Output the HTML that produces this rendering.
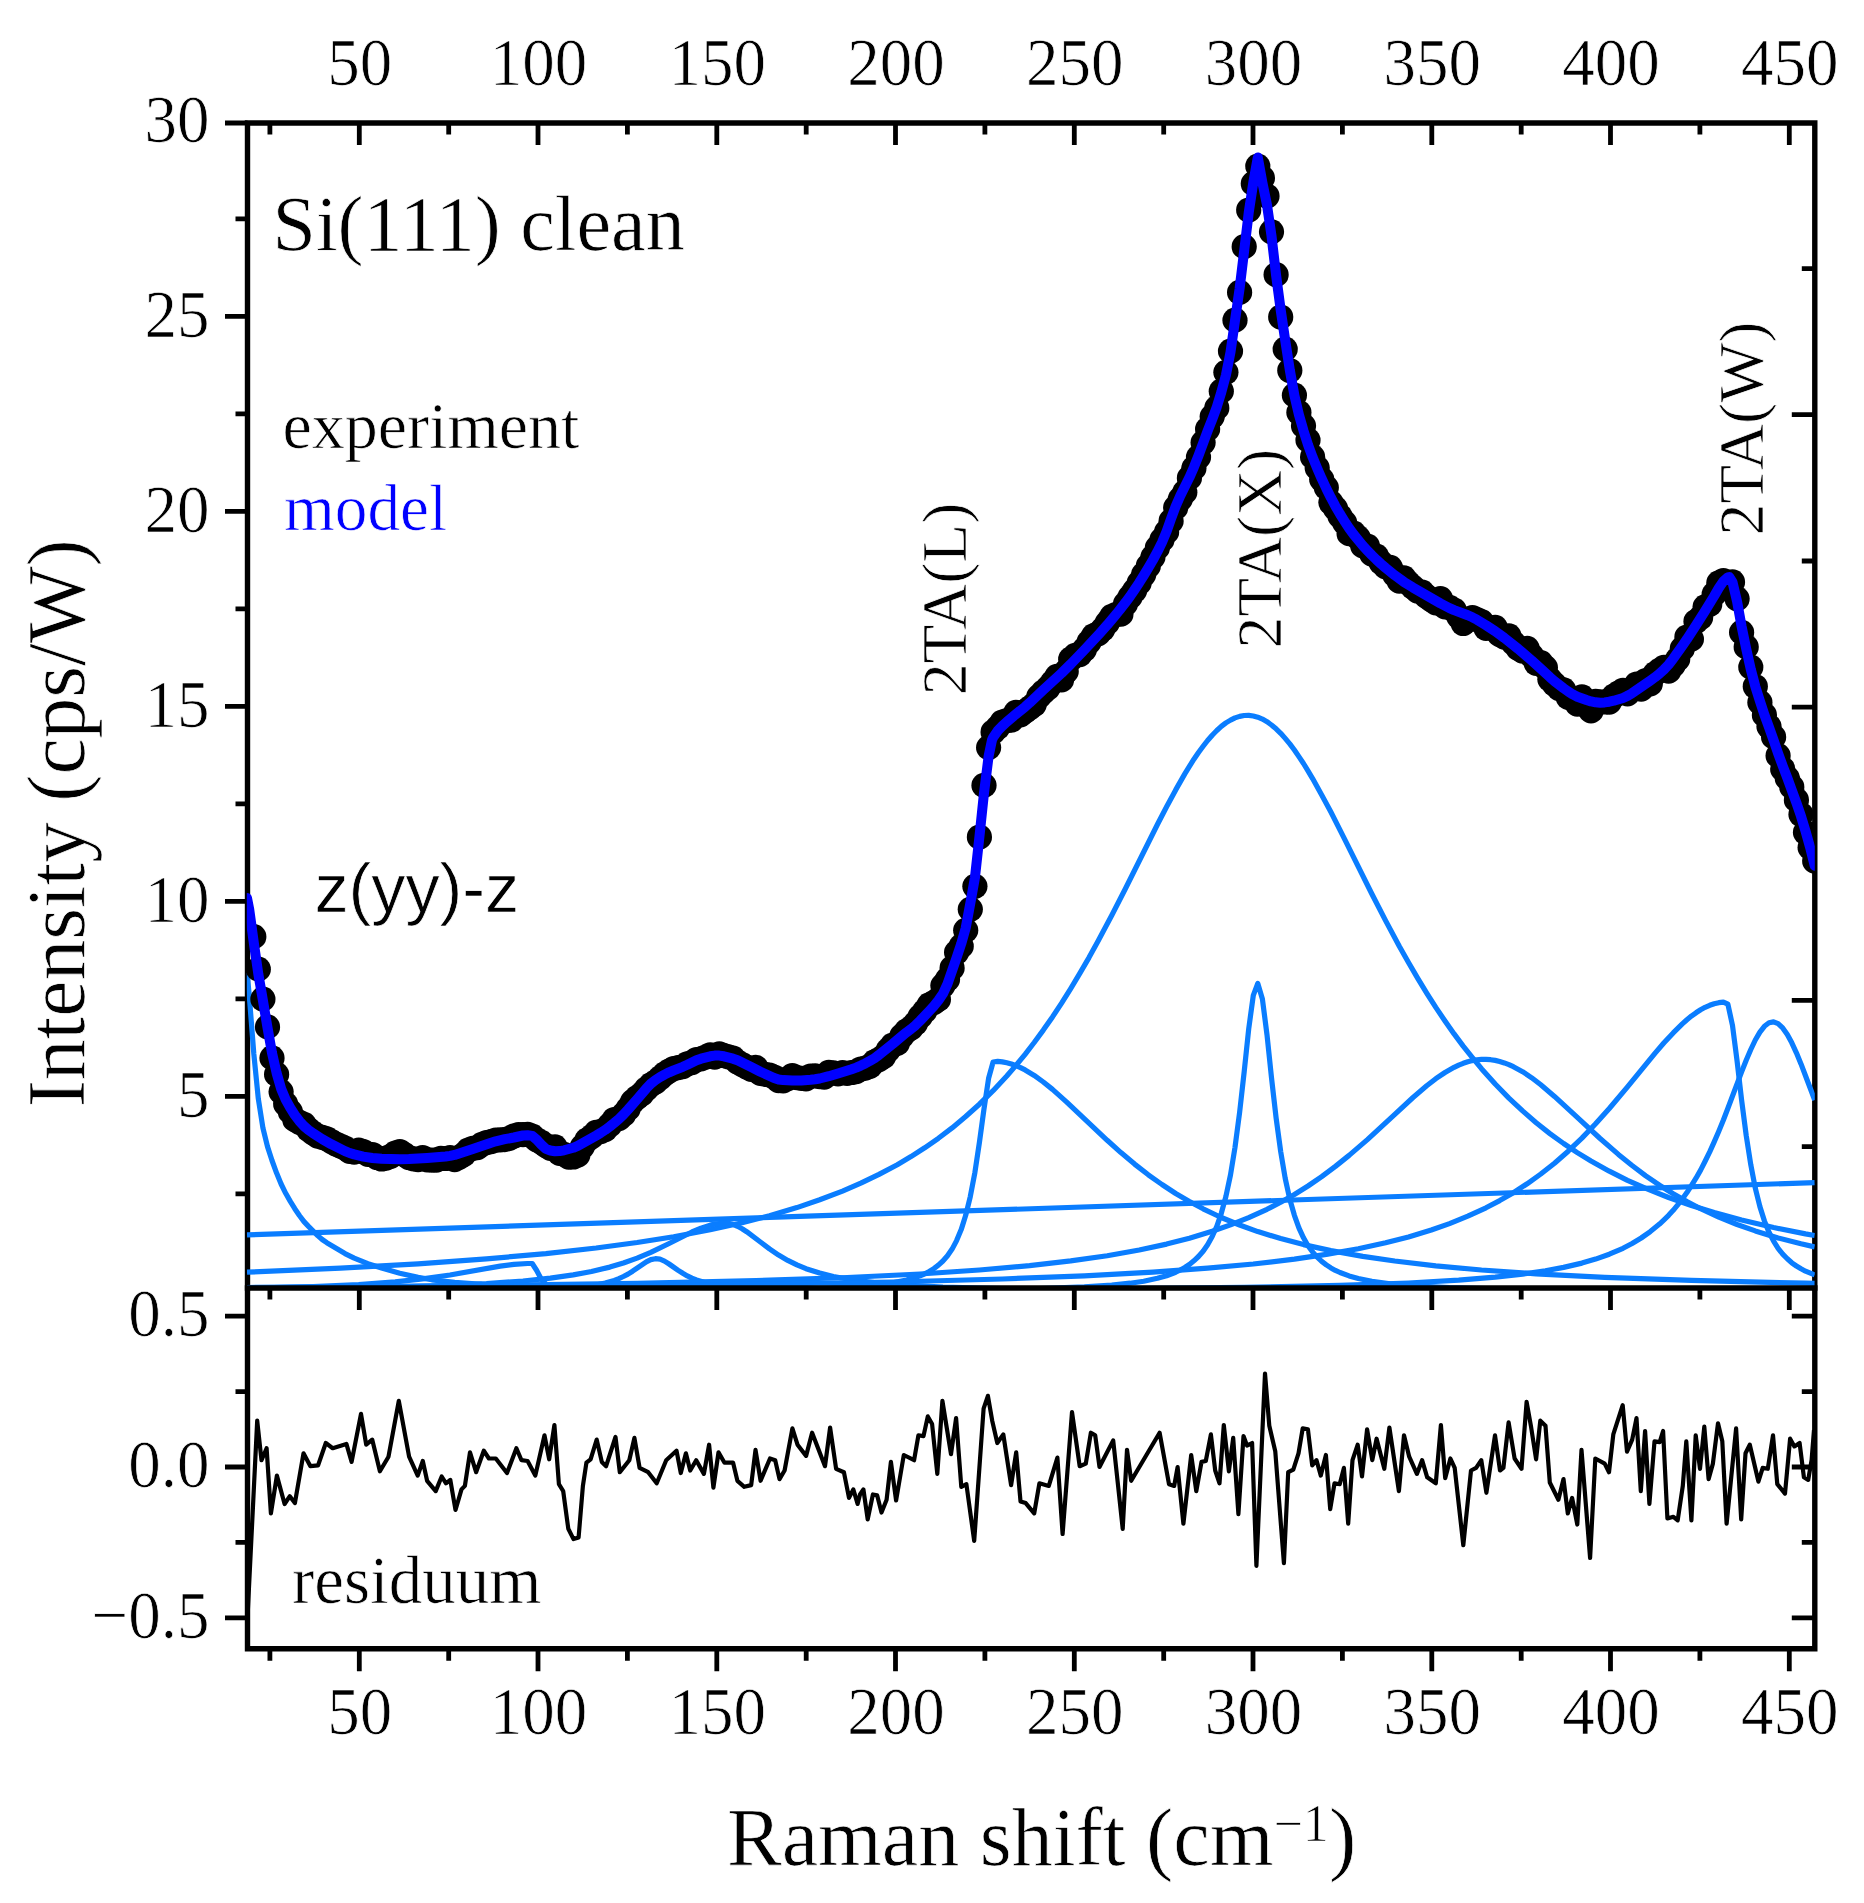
<!DOCTYPE html>
<html><head><meta charset="utf-8"><title>Raman spectrum Si(111)</title>
<style>html,body{margin:0;padding:0;background:#fff}svg{display:block}</style></head>
<body>
<svg xmlns="http://www.w3.org/2000/svg" width="1864" height="1903" viewBox="0 0 1864 1903">
<defs><clipPath id="cu"><rect x="246.8" y="123" width="1568" height="1165"/></clipPath>
<clipPath id="cl"><rect x="247.5" y="1288" width="1567.3" height="360.7"/></clipPath></defs>
<rect width="1864" height="1903" fill="#fff"/>
<path d="M247.5 1288V123H1814.8V1288" fill="none" stroke="#000" stroke-width="5.4" stroke-linecap="square"/>
<path d="M269.9 123V134.5M359.3 123V145M448.7 123V134.5M538 123V145M627.4 123V134.5M716.8 123V145M806.2 123V134.5M895.5 123V145M984.9 123V134.5M1074.3 123V145M1163.7 123V134.5M1253 123V145M1342.4 123V134.5M1431.8 123V145M1521.2 123V134.5M1610.5 123V145M1699.9 123V134.5M1789.3 123V145M235.5 1193.9H247.5M225 1096.4H247.5M235.5 998.9H247.5M225 901.4H247.5M235.5 803.9H247.5M225 706.4H247.5M235.5 608.9H247.5M225 511.4H247.5M235.5 413.9H247.5M225 316.4H247.5M235.5 218.9H247.5M225 123H247.5M1801.8 268.6H1814.8M1791.8 414.6H1814.8M1801.8 561H1814.8M1791.8 707.2H1814.8M1801.8 853.6H1814.8M1791.8 1000.4H1814.8M1801.8 1146.6H1814.8" fill="none" stroke="#000" stroke-width="4.8"/>
<g clip-path="url(#cu)" fill="none" stroke="#0a7dff" stroke-width="5.2" stroke-linejoin="round">
<path d="M247 1234.9 L1814.7 1182.6"/>
<path d="M247 973.2 L249.2 994.6 L253.8 1053.8 L258.3 1098.7 L262.9 1127.8 L267.5 1146.6 L272 1160.5 L276.6 1173.1 L281.1 1184 L285.7 1193.3 L290.3 1201.4 L294.8 1208.7 L299.4 1215.5 L304 1221.6 L308.5 1226.4 L317.7 1235.6 L322.2 1239.5 L326.8 1242.7 L345 1253.6 L354.2 1258.2 L367.9 1263.7 L381.6 1268.1 L399.8 1273.3 L418.1 1277.4 L431.8 1279.8 L454.6 1282.4 L482 1284.3 L555 1287.3 L605.2 1288.6 L737.5 1290.2 L1020.5 1290.9 L1782.7 1291.5 L1814.7 1291.5"/>
<path d="M247 1272.2 L340.5 1268.2 L418.1 1263.8 L486.5 1258.9 L545.9 1253.6 L596.1 1248 L637.1 1242.5 L673.7 1236.7 L710.2 1229.8 L742.1 1222.7 L769.5 1215.7 L796.9 1207.6 L819.7 1199.8 L842.5 1191.1 L860.8 1183.2 L879 1174.4 L897.3 1164.7 L911 1156.6 L924.7 1147.8 L938.4 1138.3 L952.1 1127.9 L965.7 1116.5 L979.4 1104.2 L993.1 1090.7 L1006.8 1076 L1016 1065.4 L1025.1 1054.3 L1034.2 1042.5 L1043.3 1030.1 L1052.5 1016.9 L1061.6 1003.1 L1070.7 988.6 L1079.8 973.4 L1089 957.6 L1098.1 941.1 L1111.8 915.3 L1125.5 888.5 L1157.4 824.5 L1166.6 806.8 L1175.7 789.9 L1184.8 773.9 L1189.4 766.4 L1193.9 759.2 L1198.5 752.5 L1203.1 746.3 L1207.6 740.5 L1212.2 735.2 L1216.8 730.5 L1221.3 726.4 L1225.9 722.9 L1230.5 720.1 L1235 717.9 L1239.6 716.4 L1244.2 715.5 L1248.7 715.4 L1253.3 716 L1257.8 717.2 L1262.4 719.1 L1267 721.7 L1271.5 725 L1276.1 728.8 L1280.7 733.3 L1285.2 738.4 L1289.8 743.9 L1294.4 750 L1298.9 756.6 L1303.5 763.5 L1308 770.9 L1312.6 778.6 L1321.7 794.9 L1330.9 812.1 L1344.6 839.1 L1371.9 894 L1385.6 920.6 L1399.3 946.2 L1408.5 962.5 L1417.6 978.1 L1426.7 993.1 L1435.8 1007.4 L1445 1021 L1454.1 1033.9 L1463.2 1046.1 L1472.4 1057.7 L1481.5 1068.7 L1495.2 1084 L1508.9 1098.1 L1522.6 1110.9 L1536.2 1122.7 L1549.9 1133.6 L1563.6 1143.5 L1577.3 1152.6 L1591 1161 L1609.3 1171.2 L1627.5 1180.3 L1645.8 1188.4 L1668.6 1197.5 L1691.4 1205.5 L1714.2 1212.6 L1741.6 1220 L1773.6 1227.5 L1805.5 1233.9 L1814.7 1235.5"/>
<path d="M247 1288.4 L313.1 1286.7 L358.7 1284.6 L395.2 1281.9 L422.6 1278.9 L450 1275 L500.2 1266.1 L513.9 1264.4 L527.6 1263.5 L532.2 1263.5 L536.7 1270.5 L541.3 1279.2 L545.9 1284.1 L550.4 1286.8 L555 1288.2 L559.6 1289.1 L568.7 1290.1 L591.5 1290.9 L682.8 1291.3 L1814.7 1291.4"/>
<path d="M247 1291.2 L459.1 1290.7 L527.6 1289.7 L559.6 1288.6 L582.4 1286.8 L596.1 1285 L605.2 1283.1 L614.3 1280.4 L618.9 1278.6 L623.4 1276.5 L628 1274.1 L632.6 1271.2 L646.3 1261.8 L650.8 1259.6 L655.4 1258.7 L660 1259.2 L664.5 1261.1 L669.1 1264 L678.2 1270.4 L682.8 1273.3 L687.3 1275.9 L691.9 1278.1 L696.5 1279.9 L705.6 1282.8 L714.7 1284.7 L728.4 1286.7 L746.7 1288.2 L778.6 1289.6 L842.5 1290.6 L1025.1 1291.2 L1814.7 1291.4"/>
<path d="M247 1289.3 L363.3 1287.8 L436.3 1285.9 L486.5 1283.6 L523 1281 L550.4 1278.1 L573.2 1274.9 L591.5 1271.5 L609.8 1267.1 L623.4 1263 L637.1 1258.1 L650.8 1252.3 L669.1 1243.5 L691.9 1232 L701 1228.1 L710.2 1225.1 L714.7 1224.1 L719.3 1223.5 L723.9 1223.2 L728.4 1223.4 L733 1224.4 L737.5 1226.3 L742.1 1228.7 L746.7 1231.7 L760.4 1242 L769.5 1248.9 L778.6 1255.1 L787.8 1260.4 L796.9 1264.9 L806 1268.7 L819.7 1273.1 L833.4 1276.5 L851.6 1279.8 L874.5 1282.7 L901.9 1284.9 L942.9 1287 L1002.3 1288.6 L1107.2 1289.9 L1330.9 1290.8 L1814.7 1291.2"/>
<path d="M247 1291.2 L637.1 1290.7 L760.4 1289.7 L819.7 1288.4 L856.2 1286.7 L879 1284.7 L892.7 1282.8 L906.4 1280 L915.5 1277.4 L920.1 1275.8 L924.7 1273.8 L929.2 1271.5 L933.8 1268.6 L938.4 1265.2 L942.9 1261 L947.5 1255.7 L952.1 1249.1 L956.6 1240.6 L961.2 1229.6 L965.7 1215.3 L970.3 1196.6 L974.9 1172.4 L979.4 1142.5 L984 1108.8 L988.6 1078.3 L993.1 1062 L997.7 1061.4 L1002.3 1061.9 L1006.8 1062.8 L1011.4 1064 L1016 1065.7 L1020.5 1067.6 L1025.1 1069.9 L1034.2 1075.4 L1043.3 1082 L1052.5 1089.4 L1066.2 1101.6 L1107.2 1140.3 L1120.9 1152.6 L1134.6 1164.1 L1148.3 1174.8 L1162 1184.5 L1175.7 1193.5 L1189.4 1201.5 L1203.1 1208.8 L1221.3 1217.5 L1239.6 1225 L1257.8 1231.6 L1280.7 1238.6 L1303.5 1244.6 L1330.9 1250.6 L1362.8 1256.4 L1394.8 1261 L1435.8 1265.8 L1481.5 1270 L1536.2 1273.8 L1604.7 1277.3 L1691.4 1280.4 L1805.5 1283.2 L1814.7 1283.3"/>
<path d="M247 1291.3 L796.9 1290.8 L961.2 1289.8 L1038.8 1288.6 L1084.4 1286.9 L1111.8 1285.1 L1130.1 1283.2 L1143.7 1281.2 L1157.4 1278.3 L1166.6 1275.7 L1175.7 1272.2 L1180.3 1270 L1184.8 1267.5 L1189.4 1264.5 L1193.9 1260.8 L1198.5 1256.5 L1203.1 1251.2 L1207.6 1244.7 L1212.2 1236.5 L1216.8 1226.3 L1221.3 1213.3 L1225.9 1196.5 L1230.5 1174.9 L1235 1147.3 L1239.6 1112.5 L1244.2 1071.6 L1248.7 1029 L1253.3 995.3 L1257.8 983.4 L1262.4 999 L1267 1034.8 L1271.5 1077.7 L1276.1 1117.9 L1280.7 1151.6 L1285.2 1178.4 L1289.8 1199.2 L1294.4 1215.3 L1298.9 1227.9 L1303.5 1237.8 L1308 1245.7 L1312.6 1252 L1317.2 1257.2 L1321.7 1261.4 L1326.3 1264.9 L1330.9 1267.9 L1335.4 1270.4 L1340 1272.5 L1349.1 1275.9 L1358.3 1278.5 L1371.9 1281.3 L1390.2 1283.8 L1413 1285.8 L1449.5 1287.7 L1504.3 1289.2 L1609.3 1290.3 L1814.7 1291"/>
<path d="M247 1287.5 L477.4 1285.6 L637.1 1283.3 L755.8 1280.6 L847.1 1277.5 L920.1 1274 L979.4 1270 L1029.6 1265.6 L1070.7 1260.9 L1107.2 1255.7 L1139.2 1250 L1166.6 1244.1 L1189.4 1238.2 L1212.2 1231.3 L1230.5 1224.9 L1248.7 1217.6 L1267 1209.3 L1280.7 1202.3 L1294.4 1194.5 L1308 1186 L1321.7 1176.6 L1335.4 1166.4 L1349.1 1155.4 L1367.4 1139.6 L1394.8 1114.3 L1413 1097.5 L1426.7 1085.8 L1435.8 1078.7 L1445 1072.5 L1454.1 1067.3 L1458.7 1065.1 L1463.2 1063.3 L1467.8 1061.8 L1472.4 1060.6 L1476.9 1059.8 L1481.5 1059.4 L1486 1059.4 L1490.6 1059.7 L1495.2 1060.4 L1499.7 1061.5 L1504.3 1062.9 L1508.9 1064.6 L1513.4 1066.7 L1522.6 1071.7 L1531.7 1077.8 L1540.8 1084.8 L1554.5 1096.4 L1577.3 1117.4 L1600.1 1138.5 L1618.4 1154.4 L1632.1 1165.5 L1645.8 1175.8 L1659.5 1185.2 L1673.2 1193.8 L1686.9 1201.6 L1700.6 1208.7 L1718.8 1217.1 L1737.1 1224.5 L1755.3 1230.9 L1778.1 1237.9 L1801 1243.8 L1814.7 1246.9"/>
<path d="M247 1288.3 L550.4 1286.6 L751.2 1284.4 L892.7 1282 L1002.3 1279 L1084.4 1275.8 L1152.9 1272.1 L1207.6 1268.2 L1253.3 1264 L1294.4 1259.1 L1326.3 1254.4 L1358.3 1248.7 L1385.6 1242.8 L1408.5 1236.9 L1431.3 1230 L1449.5 1223.6 L1467.8 1216.2 L1486 1207.8 L1499.7 1200.6 L1513.4 1192.7 L1527.1 1183.8 L1540.8 1174 L1554.5 1163.2 L1568.2 1151.2 L1581.9 1138.1 L1595.6 1123.8 L1609.3 1108.5 L1627.5 1086.8 L1654.9 1053.4 L1664 1042.8 L1673.2 1032.9 L1682.3 1023.9 L1686.9 1019.8 L1691.4 1016.1 L1696 1012.8 L1700.6 1009.8 L1705.1 1007.3 L1709.7 1005.3 L1714.2 1003.7 L1718.8 1002.7 L1723.4 1002.1 L1727.9 1004.2 L1732.5 1025.5 L1737.1 1061.1 L1741.6 1100 L1746.2 1135.4 L1750.8 1164.8 L1755.3 1188.2 L1759.9 1206.6 L1764.4 1220.9 L1769 1232.2 L1773.6 1241.1 L1778.1 1248.3 L1782.7 1254.1 L1787.3 1258.8 L1791.8 1262.8 L1796.4 1266 L1801 1268.8 L1805.5 1271.2 L1814.7 1274.9"/>
<path d="M247 1290.9 L838 1290.1 L1098.1 1288.9 L1244.2 1287.3 L1340 1285.4 L1408.5 1283 L1458.7 1280.2 L1495.2 1277.2 L1522.6 1274.2 L1545.4 1270.8 L1563.6 1267.4 L1581.9 1263.1 L1595.6 1259.1 L1609.3 1254.2 L1623 1248.3 L1632.1 1243.5 L1641.2 1238 L1650.3 1231.6 L1659.5 1224.1 L1664 1219.8 L1668.6 1215.3 L1673.2 1210.3 L1677.7 1204.9 L1682.3 1199 L1686.9 1192.6 L1691.4 1185.7 L1696 1178.2 L1700.6 1170.1 L1705.1 1161.3 L1709.7 1151.9 L1714.2 1141.9 L1718.8 1131.2 L1723.4 1120 L1727.9 1108.3 L1741.6 1071.9 L1746.2 1060.3 L1750.8 1049.5 L1755.3 1040 L1759.9 1032.1 L1764.4 1026.3 L1769 1022.8 L1773.6 1021.9 L1778.1 1023.7 L1782.7 1027.9 L1787.3 1034.4 L1791.8 1042.8 L1796.4 1052.8 L1801 1063.9 L1805.5 1075.7 L1814.7 1100"/>
</g>
<g clip-path="url(#cu)">
<g fill="#000"><circle cx="253.8" cy="936.7" r="12.6"/><circle cx="258.3" cy="969.2" r="12.6"/><circle cx="262.9" cy="999.1" r="12.6"/><circle cx="267.5" cy="1026.9" r="12.6"/><circle cx="272" cy="1057.9" r="12.6"/><circle cx="276.6" cy="1074.4" r="12.6"/><circle cx="281.1" cy="1091.8" r="12.6"/><circle cx="285.7" cy="1104.1" r="12.6"/><circle cx="290.3" cy="1111.7" r="12.6"/><circle cx="294.8" cy="1119.7" r="12.6"/><circle cx="299.4" cy="1122.4" r="12.6"/><circle cx="304" cy="1124.4" r="12.6"/><circle cx="308.5" cy="1129.5" r="12.6"/><circle cx="313.1" cy="1133.2" r="12.6"/><circle cx="317.7" cy="1136" r="12.6"/><circle cx="322.2" cy="1137.3" r="12.6"/><circle cx="326.8" cy="1138.8" r="12.6"/><circle cx="331.4" cy="1141.7" r="12.6"/><circle cx="335.9" cy="1144.1" r="12.6"/><circle cx="340.5" cy="1146.2" r="12.6"/><circle cx="345" cy="1148.1" r="12.6"/><circle cx="349.6" cy="1151.4" r="12.6"/><circle cx="354.2" cy="1152.1" r="12.6"/><circle cx="358.7" cy="1150.2" r="12.6"/><circle cx="363.3" cy="1151.5" r="12.6"/><circle cx="367.9" cy="1154.3" r="12.6"/><circle cx="372.4" cy="1154.5" r="12.6"/><circle cx="377" cy="1157.5" r="12.6"/><circle cx="381.6" cy="1159" r="12.6"/><circle cx="386.1" cy="1158.2" r="12.6"/><circle cx="390.7" cy="1156.3" r="12.6"/><circle cx="395.2" cy="1153.2" r="12.6"/><circle cx="399.8" cy="1151.5" r="12.6"/><circle cx="404.4" cy="1154.6" r="12.6"/><circle cx="408.9" cy="1157.7" r="12.6"/><circle cx="413.5" cy="1158.8" r="12.6"/><circle cx="418.1" cy="1159.6" r="12.6"/><circle cx="422.6" cy="1157.6" r="12.6"/><circle cx="427.2" cy="1159.8" r="12.6"/><circle cx="431.8" cy="1160.1" r="12.6"/><circle cx="436.3" cy="1160.2" r="12.6"/><circle cx="440.9" cy="1158.4" r="12.6"/><circle cx="445.5" cy="1158.5" r="12.6"/><circle cx="450" cy="1157.6" r="12.6"/><circle cx="454.6" cy="1159.7" r="12.6"/><circle cx="459.1" cy="1157.4" r="12.6"/><circle cx="463.7" cy="1154.6" r="12.6"/><circle cx="468.3" cy="1150.1" r="12.6"/><circle cx="472.8" cy="1148.3" r="12.6"/><circle cx="477.4" cy="1147.6" r="12.6"/><circle cx="482" cy="1144.4" r="12.6"/><circle cx="486.5" cy="1142.7" r="12.6"/><circle cx="491.1" cy="1141.6" r="12.6"/><circle cx="495.7" cy="1140.2" r="12.6"/><circle cx="500.2" cy="1139.8" r="12.6"/><circle cx="504.8" cy="1139.6" r="12.6"/><circle cx="509.3" cy="1138.4" r="12.6"/><circle cx="513.9" cy="1136" r="12.6"/><circle cx="518.5" cy="1134.7" r="12.6"/><circle cx="523" cy="1134.6" r="12.6"/><circle cx="527.6" cy="1134.4" r="12.6"/><circle cx="532.2" cy="1136.2" r="12.6"/><circle cx="536.7" cy="1139.9" r="12.6"/><circle cx="541.3" cy="1142.3" r="12.6"/><circle cx="545.9" cy="1145.7" r="12.6"/><circle cx="550.4" cy="1148.4" r="12.6"/><circle cx="555" cy="1146.8" r="12.6"/><circle cx="559.6" cy="1153.4" r="12.6"/><circle cx="564.1" cy="1154.3" r="12.6"/><circle cx="568.7" cy="1157.2" r="12.6"/><circle cx="573.2" cy="1157" r="12.6"/><circle cx="577.8" cy="1155" r="12.6"/><circle cx="582.4" cy="1146.6" r="12.6"/><circle cx="586.9" cy="1140.1" r="12.6"/><circle cx="591.5" cy="1136.9" r="12.6"/><circle cx="596.1" cy="1132.4" r="12.6"/><circle cx="600.6" cy="1131.6" r="12.6"/><circle cx="605.2" cy="1129.6" r="12.6"/><circle cx="609.8" cy="1125" r="12.6"/><circle cx="614.3" cy="1119.5" r="12.6"/><circle cx="618.9" cy="1118.7" r="12.6"/><circle cx="623.4" cy="1114.7" r="12.6"/><circle cx="628" cy="1108.9" r="12.6"/><circle cx="632.6" cy="1101.6" r="12.6"/><circle cx="637.1" cy="1097.5" r="12.6"/><circle cx="641.7" cy="1094.1" r="12.6"/><circle cx="646.3" cy="1089" r="12.6"/><circle cx="650.8" cy="1084.8" r="12.6"/><circle cx="655.4" cy="1082" r="12.6"/><circle cx="660" cy="1078.2" r="12.6"/><circle cx="664.5" cy="1074.2" r="12.6"/><circle cx="669.1" cy="1071" r="12.6"/><circle cx="673.7" cy="1068.5" r="12.6"/><circle cx="678.2" cy="1067.6" r="12.6"/><circle cx="682.8" cy="1066.6" r="12.6"/><circle cx="687.3" cy="1063.8" r="12.6"/><circle cx="691.9" cy="1062.6" r="12.6"/><circle cx="696.5" cy="1059.5" r="12.6"/><circle cx="701" cy="1058.9" r="12.6"/><circle cx="705.6" cy="1057.1" r="12.6"/><circle cx="710.2" cy="1054.8" r="12.6"/><circle cx="714.7" cy="1057.1" r="12.6"/><circle cx="719.3" cy="1053.9" r="12.6"/><circle cx="723.9" cy="1055.6" r="12.6"/><circle cx="728.4" cy="1056.8" r="12.6"/><circle cx="733" cy="1058.1" r="12.6"/><circle cx="737.5" cy="1062.1" r="12.6"/><circle cx="742.1" cy="1064.7" r="12.6"/><circle cx="746.7" cy="1067.2" r="12.6"/><circle cx="751.2" cy="1069.3" r="12.6"/><circle cx="755.8" cy="1067.4" r="12.6"/><circle cx="760.4" cy="1073.3" r="12.6"/><circle cx="764.9" cy="1074.3" r="12.6"/><circle cx="769.5" cy="1075" r="12.6"/><circle cx="774.1" cy="1077.1" r="12.6"/><circle cx="778.6" cy="1080.6" r="12.6"/><circle cx="783.2" cy="1080.9" r="12.6"/><circle cx="787.8" cy="1078.7" r="12.6"/><circle cx="792.3" cy="1075.7" r="12.6"/><circle cx="796.9" cy="1077.6" r="12.6"/><circle cx="801.4" cy="1078.4" r="12.6"/><circle cx="806" cy="1078.8" r="12.6"/><circle cx="810.6" cy="1076.2" r="12.6"/><circle cx="815.1" cy="1075.9" r="12.6"/><circle cx="819.7" cy="1076.6" r="12.6"/><circle cx="824.3" cy="1077.1" r="12.6"/><circle cx="828.8" cy="1072.4" r="12.6"/><circle cx="833.4" cy="1072.8" r="12.6"/><circle cx="838" cy="1073.8" r="12.6"/><circle cx="842.5" cy="1072.6" r="12.6"/><circle cx="847.1" cy="1073.4" r="12.6"/><circle cx="851.6" cy="1072.5" r="12.6"/><circle cx="856.2" cy="1071.7" r="12.6"/><circle cx="860.8" cy="1069" r="12.6"/><circle cx="865.3" cy="1068.1" r="12.6"/><circle cx="869.9" cy="1066.4" r="12.6"/><circle cx="874.5" cy="1061.8" r="12.6"/><circle cx="879" cy="1059.5" r="12.6"/><circle cx="883.6" cy="1056.5" r="12.6"/><circle cx="888.2" cy="1050.1" r="12.6"/><circle cx="892.7" cy="1045" r="12.6"/><circle cx="897.3" cy="1043.4" r="12.6"/><circle cx="901.9" cy="1036" r="12.6"/><circle cx="906.4" cy="1031.1" r="12.6"/><circle cx="911" cy="1028" r="12.6"/><circle cx="915.5" cy="1023.3" r="12.6"/><circle cx="920.1" cy="1016.7" r="12.6"/><circle cx="924.7" cy="1011.2" r="12.6"/><circle cx="929.2" cy="1004.9" r="12.6"/><circle cx="933.8" cy="1002.7" r="12.6"/><circle cx="938.4" cy="999.4" r="12.6"/><circle cx="942.9" cy="985.6" r="12.6"/><circle cx="947.5" cy="979.4" r="12.6"/><circle cx="952.1" cy="968" r="12.6"/><circle cx="956.6" cy="952.3" r="12.6"/><circle cx="961.2" cy="946.2" r="12.6"/><circle cx="965.7" cy="930.3" r="12.6"/><circle cx="970.3" cy="909.3" r="12.6"/><circle cx="974.9" cy="886.3" r="12.6"/><circle cx="979.4" cy="837" r="12.6"/><circle cx="984" cy="785.4" r="12.6"/><circle cx="988.6" cy="747.6" r="12.6"/><circle cx="993.1" cy="732" r="12.6"/><circle cx="997.7" cy="727.6" r="12.6"/><circle cx="1002.3" cy="722" r="12.6"/><circle cx="1006.8" cy="720.6" r="12.6"/><circle cx="1011.4" cy="720.1" r="12.6"/><circle cx="1016" cy="712.4" r="12.6"/><circle cx="1020.5" cy="714.9" r="12.6"/><circle cx="1025.1" cy="711.4" r="12.6"/><circle cx="1029.6" cy="708.1" r="12.6"/><circle cx="1034.2" cy="704.5" r="12.6"/><circle cx="1038.8" cy="696.7" r="12.6"/><circle cx="1043.3" cy="692" r="12.6"/><circle cx="1047.9" cy="688" r="12.6"/><circle cx="1052.5" cy="682.4" r="12.6"/><circle cx="1057" cy="676.3" r="12.6"/><circle cx="1061.6" cy="679.8" r="12.6"/><circle cx="1066.2" cy="671.4" r="12.6"/><circle cx="1070.7" cy="659.2" r="12.6"/><circle cx="1075.3" cy="655.3" r="12.6"/><circle cx="1079.8" cy="654.6" r="12.6"/><circle cx="1084.4" cy="649.5" r="12.6"/><circle cx="1089" cy="642.1" r="12.6"/><circle cx="1093.5" cy="635.9" r="12.6"/><circle cx="1098.1" cy="633.9" r="12.6"/><circle cx="1102.7" cy="629.3" r="12.6"/><circle cx="1107.2" cy="622.9" r="12.6"/><circle cx="1111.8" cy="616.4" r="12.6"/><circle cx="1116.4" cy="614.4" r="12.6"/><circle cx="1120.9" cy="614.2" r="12.6"/><circle cx="1125.5" cy="603.8" r="12.6"/><circle cx="1130.1" cy="596.8" r="12.6"/><circle cx="1134.6" cy="590.6" r="12.6"/><circle cx="1139.2" cy="582.8" r="12.6"/><circle cx="1143.7" cy="574.5" r="12.6"/><circle cx="1148.3" cy="566" r="12.6"/><circle cx="1152.9" cy="557.1" r="12.6"/><circle cx="1157.4" cy="547.7" r="12.6"/><circle cx="1162" cy="539.7" r="12.6"/><circle cx="1166.6" cy="531.9" r="12.6"/><circle cx="1171.1" cy="521" r="12.6"/><circle cx="1175.7" cy="507.6" r="12.6"/><circle cx="1180.3" cy="499.1" r="12.6"/><circle cx="1184.8" cy="492.2" r="12.6"/><circle cx="1189.4" cy="477.9" r="12.6"/><circle cx="1193.9" cy="468.2" r="12.6"/><circle cx="1198.5" cy="457.1" r="12.6"/><circle cx="1203.1" cy="442.6" r="12.6"/><circle cx="1207.6" cy="429.1" r="12.6"/><circle cx="1212.2" cy="416.6" r="12.6"/><circle cx="1216.8" cy="407.9" r="12.6"/><circle cx="1221.3" cy="391.2" r="12.6"/><circle cx="1225.9" cy="372.3" r="12.6"/><circle cx="1230.5" cy="351.1" r="12.6"/><circle cx="1235" cy="320.2" r="12.6"/><circle cx="1239.6" cy="292.4" r="12.6"/><circle cx="1244.2" cy="246.7" r="12.6"/><circle cx="1248.7" cy="210" r="12.6"/><circle cx="1253.3" cy="183.7" r="12.6"/><circle cx="1257.8" cy="166.1" r="12.6"/><circle cx="1262.4" cy="178" r="12.6"/><circle cx="1267" cy="196" r="12.6"/><circle cx="1271.5" cy="231.8" r="12.6"/><circle cx="1276.1" cy="274.7" r="12.6"/><circle cx="1280.7" cy="317" r="12.6"/><circle cx="1285.2" cy="349.1" r="12.6"/><circle cx="1289.8" cy="370.5" r="12.6"/><circle cx="1294.4" cy="395.2" r="12.6"/><circle cx="1298.9" cy="412.5" r="12.6"/><circle cx="1303.5" cy="425.8" r="12.6"/><circle cx="1308" cy="440.1" r="12.6"/><circle cx="1312.6" cy="456.9" r="12.6"/><circle cx="1317.2" cy="467.8" r="12.6"/><circle cx="1321.7" cy="479.3" r="12.6"/><circle cx="1326.3" cy="487.6" r="12.6"/><circle cx="1330.9" cy="502.6" r="12.6"/><circle cx="1335.4" cy="508.4" r="12.6"/><circle cx="1340" cy="516.1" r="12.6"/><circle cx="1344.6" cy="522.6" r="12.6"/><circle cx="1349.1" cy="533.7" r="12.6"/><circle cx="1353.7" cy="533.1" r="12.6"/><circle cx="1358.3" cy="537.9" r="12.6"/><circle cx="1362.8" cy="545.9" r="12.6"/><circle cx="1367.4" cy="546" r="12.6"/><circle cx="1371.9" cy="554.2" r="12.6"/><circle cx="1376.5" cy="556.2" r="12.6"/><circle cx="1381.1" cy="562.6" r="12.6"/><circle cx="1385.6" cy="566.8" r="12.6"/><circle cx="1390.2" cy="567.3" r="12.6"/><circle cx="1394.8" cy="574.8" r="12.6"/><circle cx="1399.3" cy="581.2" r="12.6"/><circle cx="1403.9" cy="577.9" r="12.6"/><circle cx="1408.5" cy="583.1" r="12.6"/><circle cx="1413" cy="587.4" r="12.6"/><circle cx="1417.6" cy="591" r="12.6"/><circle cx="1422.1" cy="592.1" r="12.6"/><circle cx="1426.7" cy="596.7" r="12.6"/><circle cx="1431.3" cy="599.9" r="12.6"/><circle cx="1435.8" cy="602.9" r="12.6"/><circle cx="1440.4" cy="598.7" r="12.6"/><circle cx="1445" cy="606.9" r="12.6"/><circle cx="1449.5" cy="607.4" r="12.6"/><circle cx="1454.1" cy="610" r="12.6"/><circle cx="1458.7" cy="616.5" r="12.6"/><circle cx="1463.2" cy="623.5" r="12.6"/><circle cx="1467.8" cy="619.7" r="12.6"/><circle cx="1472.4" cy="617.7" r="12.6"/><circle cx="1476.9" cy="619.7" r="12.6"/><circle cx="1481.5" cy="621.6" r="12.6"/><circle cx="1486" cy="628.3" r="12.6"/><circle cx="1490.6" cy="627.9" r="12.6"/><circle cx="1495.2" cy="627.3" r="12.6"/><circle cx="1499.7" cy="634.7" r="12.6"/><circle cx="1504.3" cy="637" r="12.6"/><circle cx="1508.9" cy="635.9" r="12.6"/><circle cx="1513.4" cy="643" r="12.6"/><circle cx="1518" cy="648.3" r="12.6"/><circle cx="1522.6" cy="651" r="12.6"/><circle cx="1527.1" cy="648.4" r="12.6"/><circle cx="1531.7" cy="655.8" r="12.6"/><circle cx="1536.2" cy="663.3" r="12.6"/><circle cx="1540.8" cy="662.7" r="12.6"/><circle cx="1545.4" cy="667.6" r="12.6"/><circle cx="1549.9" cy="679.3" r="12.6"/><circle cx="1554.5" cy="684.4" r="12.6"/><circle cx="1559.1" cy="688.6" r="12.6"/><circle cx="1563.6" cy="689.9" r="12.6"/><circle cx="1568.2" cy="697.3" r="12.6"/><circle cx="1572.8" cy="698.8" r="12.6"/><circle cx="1577.3" cy="704.1" r="12.6"/><circle cx="1581.9" cy="696.8" r="12.6"/><circle cx="1586.5" cy="705.9" r="12.6"/><circle cx="1591" cy="710.9" r="12.6"/><circle cx="1595.6" cy="701.3" r="12.6"/><circle cx="1600.1" cy="701.9" r="12.6"/><circle cx="1604.7" cy="702" r="12.6"/><circle cx="1609.3" cy="702.1" r="12.6"/><circle cx="1613.8" cy="696.2" r="12.6"/><circle cx="1618.4" cy="693.1" r="12.6"/><circle cx="1623" cy="690.4" r="12.6"/><circle cx="1627.5" cy="693.8" r="12.6"/><circle cx="1632.1" cy="689.6" r="12.6"/><circle cx="1636.7" cy="684" r="12.6"/><circle cx="1641.2" cy="689.2" r="12.6"/><circle cx="1645.8" cy="680.5" r="12.6"/><circle cx="1650.3" cy="683.8" r="12.6"/><circle cx="1654.9" cy="673.9" r="12.6"/><circle cx="1659.5" cy="670.4" r="12.6"/><circle cx="1664" cy="667.4" r="12.6"/><circle cx="1668.6" cy="671.2" r="12.6"/><circle cx="1673.2" cy="665.1" r="12.6"/><circle cx="1677.7" cy="659.1" r="12.6"/><circle cx="1682.3" cy="648.7" r="12.6"/><circle cx="1686.9" cy="637" r="12.6"/><circle cx="1691.4" cy="639.1" r="12.6"/><circle cx="1696" cy="621.5" r="12.6"/><circle cx="1700.6" cy="617.6" r="12.6"/><circle cx="1705.1" cy="606.8" r="12.6"/><circle cx="1709.7" cy="604.4" r="12.6"/><circle cx="1714.2" cy="594.2" r="12.6"/><circle cx="1718.8" cy="582.8" r="12.6"/><circle cx="1723.4" cy="580.6" r="12.6"/><circle cx="1727.9" cy="582.9" r="12.6"/><circle cx="1732.5" cy="581.9" r="12.6"/><circle cx="1737.1" cy="598.8" r="12.6"/><circle cx="1741.6" cy="632.4" r="12.6"/><circle cx="1746.2" cy="646.9" r="12.6"/><circle cx="1750.8" cy="667.1" r="12.6"/><circle cx="1755.3" cy="686.5" r="12.6"/><circle cx="1759.9" cy="702.4" r="12.6"/><circle cx="1764.4" cy="714.9" r="12.6"/><circle cx="1769" cy="726.5" r="12.6"/><circle cx="1773.6" cy="736.9" r="12.6"/><circle cx="1778.1" cy="755.7" r="12.6"/><circle cx="1782.7" cy="769" r="12.6"/><circle cx="1787.3" cy="778.2" r="12.6"/><circle cx="1791.8" cy="786.9" r="12.6"/><circle cx="1796.4" cy="799.9" r="12.6"/><circle cx="1801" cy="814.5" r="12.6"/><circle cx="1805.5" cy="832.5" r="12.6"/><circle cx="1810.1" cy="847.6" r="12.6"/><circle cx="1814.7" cy="861" r="12.6"/></g>
<path d="M247 898 L249.2 909.2 L253.8 942.7 L258.3 973.9 L262.9 1000.4 L267.5 1027.7 L272 1052.8 L276.6 1073 L281.1 1088.7 L285.7 1099.6 L290.3 1107.9 L294.8 1115 L299.4 1121.1 L304 1126.1 L308.5 1130 L313.1 1133.3 L322.2 1139.1 L331.4 1144.3 L345 1151.1 L349.6 1153 L354.2 1154.4 L363.3 1156.6 L372.4 1158 L381.6 1158.8 L399.8 1159.3 L408.9 1159.1 L427.2 1158 L445.5 1156.5 L450 1155.9 L454.6 1154.9 L472.8 1149 L491.1 1142.7 L495.7 1141.3 L504.8 1139.2 L513.9 1137.5 L523 1135.5 L527.6 1135.2 L532.2 1135.9 L536.7 1139.6 L541.3 1144.6 L545.9 1148.9 L550.4 1150.5 L555 1151.3 L559.6 1151.1 L564.1 1150.3 L573.2 1147.8 L577.8 1145.9 L596.1 1135.6 L600.6 1132.9 L605.2 1129.9 L609.8 1126.5 L614.3 1122.9 L618.9 1119 L623.4 1114.6 L628 1109.6 L637.1 1099.2 L646.3 1088.4 L650.8 1083.7 L655.4 1080.1 L660 1077.1 L664.5 1074.6 L669.1 1072.3 L673.7 1070.3 L682.8 1066.8 L687.3 1064.8 L696.5 1060.3 L701 1058.7 L710.2 1056.3 L714.7 1055.6 L719.3 1055.6 L723.9 1056.3 L733 1058.7 L737.5 1060.3 L751.2 1067 L760.4 1071.7 L774.1 1078 L778.6 1079.5 L783.2 1080.1 L792.3 1080.6 L801.4 1080.6 L810.6 1079.8 L815.1 1079.3 L819.7 1078.5 L828.8 1076.2 L838 1073.5 L851.6 1069.2 L856.2 1067.6 L860.8 1065.6 L865.3 1063.4 L869.9 1060.9 L874.5 1058.2 L879 1054.9 L892.7 1043.9 L901.9 1036.1 L906.4 1032.4 L911 1029 L915.5 1025.3 L920.1 1020.7 L929.2 1011.1 L933.8 1006.1 L938.4 1000.4 L942.9 993.8 L947.5 983.9 L952.1 970.6 L956.6 957.7 L961.2 943.8 L965.7 928 L970.3 903.4 L974.9 877.9 L979.4 837 L984 793.1 L988.6 756.3 L992 740 L993.1 737.5 L997.7 730.8 L1002.3 726 L1006.8 721.8 L1016 714.1 L1025.1 706.8 L1029.6 702.8 L1043.3 689.8 L1061.6 673.1 L1070.7 664.1 L1084.4 649.9 L1098.1 635.2 L1107.2 624.9 L1116.4 614 L1120.9 608.3 L1125.5 602.4 L1130.1 596.2 L1134.6 589.6 L1139.2 582.7 L1143.7 575.5 L1148.3 567.9 L1152.9 560 L1157.4 551.7 L1162 542.4 L1166.6 531.4 L1171.1 518.7 L1175.7 506.2 L1180.3 495.8 L1189.4 477.4 L1193.9 467.2 L1198.5 455.6 L1207.6 431.1 L1212.2 419.4 L1216.8 406.9 L1221.3 392.3 L1225.9 375.3 L1230.5 352.1 L1235 320.5 L1239.6 288.6 L1244.2 250.5 L1248.7 212.8 L1253.3 182.4 L1257.8 157.5 L1257.8 157.5 L1262.4 182.6 L1267 205 L1271.5 235.9 L1276.1 275.4 L1280.7 310 L1285.2 340.3 L1289.8 370 L1294.4 395.3 L1298.9 414.6 L1303.5 430.7 L1308 444.8 L1312.6 457.2 L1317.2 468.3 L1321.7 478.7 L1326.3 488.5 L1330.9 497.7 L1335.4 506.2 L1340 514 L1344.6 521.3 L1349.1 528.2 L1353.7 534.5 L1358.3 540.2 L1362.8 545.6 L1367.4 550.6 L1371.9 555.3 L1376.5 559.8 L1381.1 564 L1385.6 567.9 L1394.8 575.3 L1403.9 581.9 L1413 587.6 L1440.4 603.4 L1449.5 608.1 L1454.1 610.1 L1467.8 615.2 L1472.4 617.3 L1476.9 619.7 L1486 625.2 L1495.2 631.2 L1504.3 637.9 L1518 648.7 L1531.7 660.5 L1540.8 668.7 L1549.9 677.2 L1554.5 681.2 L1563.6 688.2 L1568.2 691.5 L1572.8 694.4 L1577.3 696.7 L1586.5 700 L1591 701.4 L1595.6 702.3 L1600.1 702.7 L1604.7 702.4 L1609.3 701.7 L1613.8 700.7 L1623 698 L1627.5 695.9 L1632.1 693.2 L1650.3 680.6 L1654.9 677.3 L1659.5 673.6 L1664 669.5 L1668.6 664.6 L1673.2 658.7 L1682.3 645.8 L1686.9 639.2 L1696 625.3 L1705.1 610.8 L1714.2 596 L1718.8 588 L1723.4 581.2 L1727.9 577.3 L1729.2 577 L1732.5 582.2 L1737.1 601.6 L1741.6 626.5 L1746.2 648.8 L1750.8 669.4 L1755.3 686.4 L1759.9 701.1 L1764.4 714.7 L1769 727.3 L1773.6 740.2 L1778.1 753.3 L1782.7 765.9 L1787.3 777.9 L1791.8 790.2 L1796.4 802.8 L1801 816.2 L1805.5 831 L1810.1 847.4 L1814.7 865.8" fill="none" stroke="#0000ff" stroke-width="10" stroke-linejoin="round" stroke-linecap="round"/>
</g>
<path clip-path="url(#cl)" d="M246 1648 L257.2 1420.7 L261.5 1460.2 L266.6 1448.2 L270.9 1513.4 L276.9 1475.6 L284.6 1504 L289.8 1496.2 L294.9 1503.1 L303.5 1453.3 L310.4 1466.2 L318.1 1465.3 L325.8 1443 L332.7 1448.2 L346.4 1443.9 L351.6 1461.9 L361 1413.8 L366.2 1444.7 L372.2 1439.6 L379.9 1471.3 L388.5 1456.7 L398.8 1400.9 L409.1 1456.7 L417.7 1475.6 L422.8 1461 L427.1 1480.8 L435.7 1491.1 L441.7 1476.5 L446 1483.3 L450.3 1479.9 L455.5 1510 L461.5 1489.4 L464.9 1485.9 L470 1452.4 L476.1 1472.2 L483.8 1450.7 L488.9 1458.5 L495.8 1458.5 L507 1473 L516.4 1448.2 L521.5 1460.2 L527.6 1461 L535.3 1475.6 L544.5 1435.3 L549.2 1459.3 L554.4 1425 L558.9 1484.2 L563.2 1491.1 L568.3 1528.8 L573.5 1539.1 L578.6 1537.4 L582.9 1485.9 L586.4 1462.7 L590.6 1459.3 L596.7 1439.6 L601.8 1461.9 L606.1 1466.2 L615.5 1437 L619.8 1472.2 L629.3 1460.2 L634.4 1437.9 L639.6 1467.9 L648.2 1472.2 L656.7 1483.3 L666.2 1460.2 L676.5 1450.7 L680.8 1473 L685.9 1453.3 L690.2 1470.5 L696.2 1460.2 L703.9 1473.9 L709.1 1444.7 L713.4 1487.6 L718.5 1452.4 L724.5 1462.7 L733.1 1462.7 L737.4 1480.8 L744.3 1486.8 L751.2 1485.1 L755.5 1449.9 L760.6 1480.8 L770 1458.5 L775.2 1460.2 L779.5 1479.1 L784.6 1470.5 L792.4 1428.4 L797.5 1444.7 L806.1 1455.9 L812.1 1432.7 L825 1466.2 L830.1 1427.6 L836.1 1468.8 L843.9 1472.2 L849 1497.9 L853.3 1489.4 L857.6 1503.9 L860 1494.5 L863.4 1489.4 L867.7 1519.4 L872.9 1494.5 L877.2 1495.4 L881.5 1512.5 L886.6 1499.7 L890.9 1461.9 L896.1 1500.5 L903.8 1455 L914.1 1460.2 L918.4 1435.3 L923.5 1436.1 L927.8 1416.4 L932.1 1424.1 L937.3 1473.9 L942.4 1400.9 L951 1454.2 L956.1 1418.1 L961.3 1486.8 L966.4 1484.2 L974.2 1540.9 L983.6 1408.7 L987.9 1395.8 L992.2 1420.7 L997.3 1443 L1003.3 1434.4 L1011.1 1485.1 L1016.2 1452.4 L1020.5 1501.4 L1025.7 1503.1 L1034.2 1513.4 L1039.4 1483.3 L1048.8 1485.9 L1057.4 1457.6 L1062.6 1534 L1072 1412.1 L1079.7 1466.2 L1085.8 1463.6 L1090.9 1432.7 L1095.2 1435.3 L1099.5 1467 L1113.2 1440.4 L1122.7 1528.8 L1127 1449.9 L1131.2 1480.8 L1159.6 1432.7 L1169 1484.2 L1174.2 1485.9 L1177.6 1467 L1183.4 1523.7 L1191.2 1455 L1196.3 1491.1 L1201.5 1461.9 L1205.8 1461 L1210.9 1434.4 L1215.2 1470.5 L1219.5 1483.3 L1223.8 1425 L1228.9 1471.3 L1233.2 1437.9 L1238.4 1514.2 L1243.5 1436.1 L1247 1445.6 L1252.1 1443 L1256.4 1565.8 L1265 1373.5 L1269.3 1425.8 L1275.3 1451.6 L1283.9 1563.2 L1288.2 1472.2 L1293.3 1469.6 L1298.5 1453.3 L1302.7 1428.4 L1307.9 1429.3 L1312.2 1465.3 L1316.5 1460.2 L1320.8 1475.6 L1325.9 1455 L1330.2 1509.1 L1334.5 1483.3 L1339.7 1484.2 L1343.9 1467.9 L1348.2 1523.7 L1352.5 1460.2 L1357.7 1444.7 L1362 1476.5 L1367.1 1429.3 L1372.3 1460.2 L1376.6 1438.7 L1384.3 1468.8 L1389.4 1427.6 L1398.9 1491.1 L1404 1435.3 L1409.2 1456.7 L1416.9 1473.9 L1422.1 1460.2 L1427.2 1477.3 L1435.8 1483.3 L1440.9 1425 L1445.2 1478.2 L1450.4 1458.5 L1454.7 1467.9 L1463.3 1545.2 L1471 1470.5 L1476.1 1467.9 L1481.3 1460.2 L1486.4 1492.8 L1495 1435.3 L1500 1470.5 L1503.4 1467.9 L1508.6 1422.4 L1514.6 1458.5 L1521.5 1468.8 L1526.6 1401.8 L1530.9 1425.8 L1536.1 1459.3 L1540.3 1420.7 L1545.5 1425.8 L1549.8 1482.5 L1558.4 1499.7 L1563.5 1479.1 L1567.8 1513.4 L1572.1 1497.9 L1577.3 1524.5 L1581.5 1449.9 L1590.1 1558 L1595.3 1458.5 L1604.7 1463.6 L1609 1472.2 L1613.3 1434.4 L1622.7 1405.2 L1627 1451.6 L1632.2 1439.6 L1636.5 1418.1 L1640.8 1491.1 L1645.1 1431 L1649.4 1503.9 L1654.5 1441.3 L1659.7 1442.1 L1663.1 1431 L1667.4 1518.5 L1673.4 1516.8 L1677.7 1520.3 L1682.8 1485.9 L1686.3 1441.3 L1691.4 1520.3 L1695.7 1435.3 L1700 1468.8 L1704.3 1426.7 L1708.6 1479.1 L1712.9 1463.6 L1718 1423.3 L1722.3 1441.3 L1726.6 1523.7 L1736.1 1428.4 L1741.2 1519.4 L1745.5 1453.3 L1749.8 1444.7 L1758.4 1481.6 L1762.7 1467.9 L1767.8 1468.8 L1773 1435.3 L1777.3 1484.2 L1785 1493.6 L1790.1 1438.7 L1794.4 1446.4 L1799.6 1443 L1803.9 1477.3 L1808.2 1479.9 L1811.6 1460.2 L1814 1430" fill="none" stroke="#000" stroke-width="4.2" stroke-linejoin="round"/>
<path d="M247.5 1288H1814.8V1648.7H247.5Z" fill="none" stroke="#000" stroke-width="5.4" stroke-linejoin="miter"/>
<path d="M269.9 1288V1299.5M269.9 1648.7V1660.7M359.3 1288V1310M359.3 1648.7V1671.2M448.7 1288V1299.5M448.7 1648.7V1660.7M538 1288V1310M538 1648.7V1671.2M627.4 1288V1299.5M627.4 1648.7V1660.7M716.8 1288V1310M716.8 1648.7V1671.2M806.2 1288V1299.5M806.2 1648.7V1660.7M895.5 1288V1310M895.5 1648.7V1671.2M984.9 1288V1299.5M984.9 1648.7V1660.7M1074.3 1288V1310M1074.3 1648.7V1671.2M1163.7 1288V1299.5M1163.7 1648.7V1660.7M1253 1288V1310M1253 1648.7V1671.2M1342.4 1288V1299.5M1342.4 1648.7V1660.7M1431.8 1288V1310M1431.8 1648.7V1671.2M1521.2 1288V1299.5M1521.2 1648.7V1660.7M1610.5 1288V1310M1610.5 1648.7V1671.2M1699.9 1288V1299.5M1699.9 1648.7V1660.7M1789.3 1288V1310M1789.3 1648.7V1671.2M225 1316.2H247.5M1791.8 1316.2H1814.8M235.5 1391.6H247.5M1801.8 1391.6H1814.8M225 1467H247.5M1791.8 1467H1814.8M235.5 1542.4H247.5M1801.8 1542.4H1814.8M225 1617.8H247.5M1791.8 1617.8H1814.8" fill="none" stroke="#000" stroke-width="4.8"/>
<g font-family="Liberation Serif, serif" fill="#000" stroke="#fff" stroke-width="0.7" font-size="65" transform="scale(1 1.05)">
<text x="359.8" y="81.4" text-anchor="middle">50</text>
<text x="359.8" y="1651" text-anchor="middle">50</text>
<text x="538.5" y="81.4" text-anchor="middle">100</text>
<text x="538.5" y="1651" text-anchor="middle">100</text>
<text x="717.3" y="81.4" text-anchor="middle">150</text>
<text x="717.3" y="1651" text-anchor="middle">150</text>
<text x="896" y="81.4" text-anchor="middle">200</text>
<text x="896" y="1651" text-anchor="middle">200</text>
<text x="1074.8" y="81.4" text-anchor="middle">250</text>
<text x="1074.8" y="1651" text-anchor="middle">250</text>
<text x="1253.5" y="81.4" text-anchor="middle">300</text>
<text x="1253.5" y="1651" text-anchor="middle">300</text>
<text x="1432.3" y="81.4" text-anchor="middle">350</text>
<text x="1432.3" y="1651" text-anchor="middle">350</text>
<text x="1611" y="81.4" text-anchor="middle">400</text>
<text x="1611" y="1651" text-anchor="middle">400</text>
<text x="1789.8" y="81.4" text-anchor="middle">450</text>
<text x="1789.8" y="1651" text-anchor="middle">450</text>
<text x="209.5" y="1064.2" text-anchor="end">5</text>
<text x="209.5" y="878.5" text-anchor="end">10</text>
<text x="209.5" y="692.8" text-anchor="end">15</text>
<text x="209.5" y="507" text-anchor="end">20</text>
<text x="209.5" y="321.3" text-anchor="end">25</text>
<text x="209.5" y="135.6" text-anchor="end">30</text>
<text x="209.5" y="1272.6" text-anchor="end">0.5</text>
<text x="209.5" y="1416.2" text-anchor="end">0.0</text>
<text x="209.5" y="1559.8" text-anchor="end">−0.5</text>
</g>
<g font-family="Liberation Serif, serif" stroke="#fff" stroke-width="0.7" fill="#000">
<text font-size="81.5" text-anchor="middle" transform="translate(83.6 823.3) rotate(-90)">Intensity (cps/W)</text>
<text font-size="82" x="727" y="1864.5">Raman shift (cm<tspan font-size="52" dy="-24">−1</tspan><tspan dy="24">)</tspan></text>
<text font-size="78" x="272.5" y="250">Si(111) clean</text>
<text font-size="66" x="282.5" y="447.5">experiment</text>
<text font-size="65.3" x="284" y="530" fill="#0000ff">model</text>
<text font-size="67" x="292" y="1603">residuum</text>
<text font-size="63.6" transform="translate(965.8 695.3) rotate(-90)">2TA(L)</text>
<text font-size="63.6" transform="translate(1280.9 648.5) rotate(-90)">2TA(X)</text>
<text font-size="63.6" transform="translate(1762.6 535.5) rotate(-90)">2TA(W)</text>
</g>
<text font-family="Liberation Sans, sans-serif" stroke="#fff" stroke-width="0.7" font-size="68.3" x="314.4" y="912">z(yy)-z</text>
</svg>
</body></html>
